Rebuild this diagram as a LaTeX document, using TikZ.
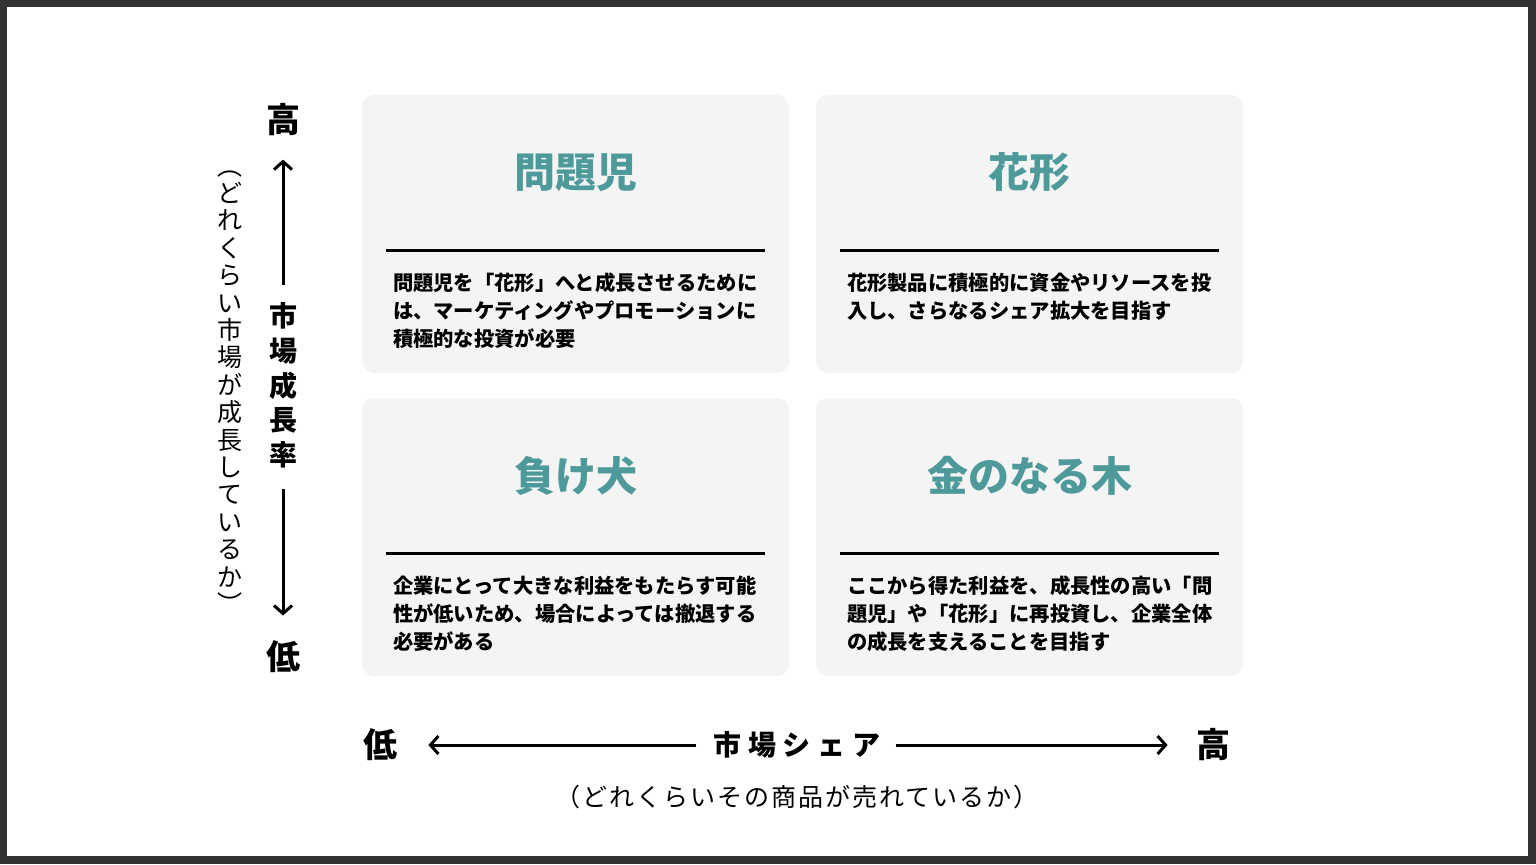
\documentclass[tikz,border=0pt]{standalone}
\usepackage{fontspec}
\setmainfont{Noto Sans CJK JP}
\usetikzlibrary{arrows.meta, positioning}
\definecolor{MatrixTeal}{HTML}{4E9A9A}
\definecolor{BoxGray}{HTML}{F4F4F4}
\definecolor{FrameDark}{HTML}{333333}
\newcommand{\ks}{\kern3.3pt}

\begin{document}
\begin{tikzpicture}[x=0.5pt, y=0.5pt, node distance=227pt, on grid, quad/.style={rectangle, rounded corners=6pt, fill=BoxGray, minimum width=213.5pt, minimum height=139pt, inner sep=0pt}, quadtitle/.style={font=\bfseries\fontsize{20.5}{24}\selectfont, text=MatrixTeal, inner sep=0pt}, quadtext/.style={font=\bfseries\fontsize{10.15}{14}\selectfont, align=left, anchor=north west, inner sep=0pt}, titlerule/.style={line width=1.5pt}, axisend/.style={font=\bfseries\fontsize{17}{20}\selectfont, inner sep=0pt}, axislabel/.style={font=\bfseries\fontsize{14}{17.35}\selectfont, align=center, inner sep=0pt}, axisnote/.style={font=\fontsize{12.5}{13.7}\selectfont, align=center, inner sep=0pt}, axisarrow/.style={line width=1.5pt, -{Straight Barb[length=4pt, width=9pt]}}]

        % frame
        \useasboundingbox (0,0) rectangle (1536,864);
        \fill[FrameDark] (0,0) rectangle (1536,864);
        \fill[white] (7,8) rectangle (1528,857);

        % quadrants
        \node[quad] (B1) at (575.5,630) {};
        \node[quad, right=of B1] (B2) {};
        \node[quad, below=151.5pt of B1] (B3) {};
        \node[quad, right=of B3] (B4) {};

        \node[quadtitle] (T1) at ([yshift=-39pt]B1.north) {問題児};
        \node[quadtitle] (T2) at ([yshift=-39pt]B2.north) {花形};
        \node[quadtitle] (T3) at ([yshift=-39pt]B3.north) {負け犬};
        \node[quadtitle] (T4) at ([yshift=-39pt]B4.north) {金のなる木};

        \draw[titlerule] ([xshift=12pt, yshift=-78pt]B1.north west) -- ([xshift=-12pt, yshift=-78pt]B1.north east);
        \draw[titlerule] ([xshift=12pt, yshift=-78pt]B2.north west) -- ([xshift=-12pt, yshift=-78pt]B2.north east);
        \draw[titlerule] ([xshift=12pt, yshift=-78pt]B3.north west) -- ([xshift=-12pt, yshift=-78pt]B3.north east);
        \draw[titlerule] ([xshift=12pt, yshift=-78pt]B4.north west) -- ([xshift=-12pt, yshift=-78pt]B4.north east);

        \node[quadtext] (D1) at ([xshift=15.5pt, yshift=-89pt]B1.north west) {問題児を「花形」へと成長させるために\\は、マーケティングやプロモーションに\\積極的な投資が必要};
        \node[quadtext] (D2) at ([xshift=15.5pt, yshift=-89pt]B2.north west) {花形製品に積極的に資金やリソースを投\\入し、さらなるシェア拡大を目指す};
        \node[quadtext] (D3) at ([xshift=15.5pt, yshift=-89pt]B3.north west) {企業にとって大きな利益をもたらす可能\\性が低いため、場合によっては撤退する\\必要がある};
        \node[quadtext] (D4) at ([xshift=15.5pt, yshift=-89pt]B4.north west) {ここから得た利益を、成長性の高い「問\\題児」や「花形」に再投資し、企業全体\\の成長を支えることを目指す};

        % vertical axis
        \node[axisend] (VH) at (283,744) {高};
        \node[axisend] (VL) at (283,207) {低};
        \node[axislabel] (VA) at (283,478.5) {市\\場\\成\\長\\率};
        \node[axisnote] (VN) at (230,472) {︵\\ど\\れ\\く\\ら\\い\\市\\場\\が\\成\\長\\し\\て\\い\\る\\か\\︶};
        \draw[axisarrow, shorten <=8.5pt, shorten >=11.5pt] (VA) -- (VH);
        \draw[axisarrow, shorten <=10pt, shorten >=12.5pt] (VA) -- (VL);

        % horizontal axis
        \node[axisend] (HL) at (380,119) {低};
        \node[axisend] (HH) at (1213,119) {高};
        \node[axislabel] (HA) at (797,119) {市\ks 場\ks シ\ks ェ\ks ア};
        \node[axisnote, font={\fontsize{12.5}{13.7}\selectfont\addfontfeatures{LetterSpace=8}}] (HN) at (797,67) {（どれくらいその商品が売れているか）};
        \draw[axisarrow, shorten <=8.5pt, shorten >=15.5pt] (HA) -- (HL);
        \draw[axisarrow, shorten <=7.5pt, shorten >=14pt] (HA) -- (HH);

    \end{tikzpicture}
\end{document}
